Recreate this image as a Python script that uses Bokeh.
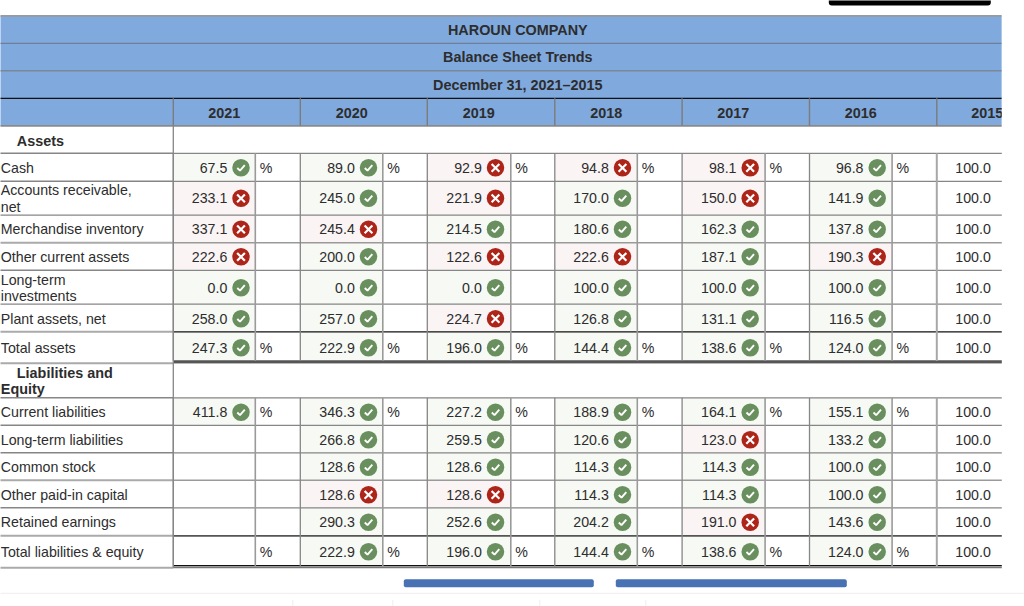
from bokeh.core.properties import value
from bokeh.embed import file_html
from bokeh.models import ColumnDataSource, Range1d
from bokeh.plotting import figure
from bokeh.resources import INLINE

title_lines = ["HAROUN COMPANY", "Balance Sheet Trends", "December 31, 2021\u20132015"]
years = ["2021", "2020", "2019", "2018", "2017", "2016", "2015"]

row_labels = [
    "Cash", "Accounts receivable,\nnet", "Merchandise inventory", "Other current assets",
    "Long-term\ninvestments", "Plant assets, net", "Total assets",
    "Current liabilities", "Long-term liabilities", "Common stock",
    "Other paid-in capital", "Retained earnings", "Total liabilities & equity",
]
section_labels = ["Assets", "Liabilities and\nEquity"]
percent_rows = ["Cash", "Total assets", "Current liabilities", "Total liabilities & equity"]

values_2021 = [67.5, 233.1, 337.1, 222.6, 0.0, 258.0, 247.3, 411.8, None, None, None, None, None]
values_2020 = [89.0, 245.0, 245.4, 200.0, 0.0, 257.0, 222.9, 346.3, 266.8, 128.6, 128.6, 290.3, 222.9]
values_2019 = [92.9, 221.9, 214.5, 122.6, 0.0, 224.7, 196.0, 227.2, 259.5, 128.6, 128.6, 252.6, 196.0]
values_2018 = [94.8, 170.0, 180.6, 222.6, 100.0, 126.8, 144.4, 188.9, 120.6, 114.3, 114.3, 204.2, 144.4]
values_2017 = [98.1, 150.0, 162.3, 187.1, 100.0, 131.1, 138.6, 164.1, 123.0, 114.3, 114.3, 191.0, 138.6]
values_2016 = [96.8, 141.9, 137.8, 190.3, 100.0, 116.5, 124.0, 155.1, 133.2, 100.0, 100.0, 143.6, 124.0]
values_2015 = [100.0, 100.0, 100.0, 100.0, 100.0, 100.0, 100.0, 100.0, 100.0, 100.0, 100.0, 100.0, 100.0]

# y = correct, n = wrong, - = no mark
marks_2021 = "ynnnyyyy-----"
marks_2020 = "yynyyyyyyynyy"
marks_2019 = "nnynynyyyynyy"
marks_2018 = "nyynyyyyyyyyy"
marks_2017 = "nnyyyyyynyyny"
marks_2016 = "yyynyyyyyyyyy"
marks_2015 = "-------------"

all_values = [values_2021, values_2020, values_2019, values_2018, values_2017, values_2016, values_2015]
all_marks = [marks_2021, marks_2020, marks_2019, marks_2018, marks_2017, marks_2016, marks_2015]

# table layout, page pixels
TABLE_R = 1002
col_left = [173.5, 300.5, 427.5, 555, 682.3, 809.7, 937]
col_split = [255.5, 383, 511, 637.5, 765.3, 892.3]
year_x = [224.5, 352, 479, 606.5, 733.5, 861, 987.5]
num_right = [227.5, 355, 482, 609, 736.7, 863.7, 991]
row_y = [168, 198.5, 229.5, 257, 288, 319, 348, 412.5, 440, 467.5, 495, 522.5, 552]
row_top = [153.5, 181.5, 215.3, 243, 270.5, 304.3, 332, 398, 425.5, 453, 480.5, 508, 536]
row_bot = [181.5, 215.3, 243, 270.5, 304.3, 332, 361, 425.5, 453, 480.5, 508, 536, 567]
ICON_DX = 13.7
LINE_H = 16.4
SHIFT = 0.7
FONT = "Liberation Sans"
FS = "14.2px"
FS_HEAD = "14.4px"
INK = "#2d2d2d"
GRID = "#868686"
BAND = "#80a9de"

p = figure(
    width=1024, height=606,
    x_range=Range1d(SHIFT, 1024 + SHIFT), y_range=Range1d(606 + SHIFT, SHIFT),
    x_axis_type=None, y_axis_type=None,
    toolbar_location=None, tools="", output_backend="svg",
    min_border=0, outline_line_color=None,
)
p.grid.visible = False

# header band and cell tints
p.quad(left=0, right=TABLE_R, top=16, bottom=126, fill_color=BAND, line_color=None)

tint = dict(l=[], r=[], t=[], b=[], c=[])
txt = dict(x=[], y=[], s=[])
pct = dict(x=[], y=[])
good = dict(x=[], y=[])
bad = dict(x=[], y=[])
for c, (vals, marks) in enumerate(zip(all_values, all_marks)):
    for r, (v, m) in enumerate(zip(vals, marks)):
        if v is not None:
            txt["x"].append(num_right[c])
            txt["y"].append(row_y[r])
            txt["s"].append(f"{v:.1f}")
        if m == "-":
            continue
        tint["l"].append(col_left[c])
        tint["r"].append(col_split[c])
        tint["t"].append(row_top[r])
        tint["b"].append(row_bot[r])
        tint["c"].append("#f6f9f4" if m == "y" else "#fbf4f4")
        target = good if m == "y" else bad
        target["x"].append(num_right[c] + ICON_DX)
        target["y"].append(row_y[r])
    if c < 6:
        for name in percent_rows:
            pct["x"].append(col_split[c] + 4.5)
            pct["y"].append(row_y[row_labels.index(name)])

p.quad(left="l", right="r", top="t", bottom="b", fill_color="c", line_color=None,
       source=ColumnDataSource(tint))

# rules: label column
light_h = [(0, 173.5, y, 1.4, GRID) for y in (153.5, 181.5, 215.3, 270.5, 304.3, 398, 425.5, 453, 508)]
light_h += [(0, 173.5, y, 2, "#aaaaaa") for y in (243, 332, 363.5, 480.5, 536, 568)]
# rules: body
light_h += [(173.5, TABLE_R, y, 1.2, GRID) for y in (153.5, 181.5, 215.3, 270.5, 304.3, 398, 425.5, 453, 508)]
light_h += [(173.5, TABLE_R, y, 1.6, "#9a9a9a") for y in (243, 480.5)]
light_h += [(173.5, TABLE_R, 332, 1.3, "#111111"), (173.5, TABLE_R, 361.3, 1.8, "#555555"),
            (173.5, TABLE_R, 363, 1.0, "#111111"), (173.5, TABLE_R, 536, 1.8, "#555555"),
            (173.5, TABLE_R, 565.8, 1.2, "#111111"), (173.5, TABLE_R, 567.6, 1.8, "#777777")]
# rules: header
light_h += [(0, TABLE_R, 16, 1.8, "#9a9a9a"), (0, TABLE_R, 43.5, 1.2, "#6f7f96"), (0, TABLE_R, 71, 1.6, "#7a8797"),
            (0, TABLE_R, 98.5, 1.2, "#111111"), (0, TABLE_R, 126, 1.8, "#8a8a8a")]
x0, x1, ys, ws, cs = zip(*light_h)
p.segment(x0=list(x0), x1=list(x1), y0=list(ys), y1=list(ys), line_width=list(ws), line_color=list(cs))

blocks = [(153.5, 361), (398, 567)]
vx, vt, vb, vw, vc = [], [], [], [], []
for top, bot in blocks:
    for x in col_left[:-1]:
        vx.append(x); vt.append(top); vb.append(bot); vw.append(1.3); vc.append(GRID)
    for x in col_split:
        vx.append(x); vt.append(top); vb.append(bot); vw.append(1.6); vc.append("#9a9a9a")
    vx.append(col_left[-1]); vt.append(top); vb.append(bot); vw.append(2); vc.append("#a8a8a8")
for x in col_left:
    vx.append(x); vt.append(98.5); vb.append(126); vw.append(1.4); vc.append("#7c7c7c")
vx.append(col_left[0]); vt.append(126); vb.append(568); vw.append(1.3); vc.append(GRID)
p.segment(x0=vx, x1=vx, y0=vt, y1=vb, line_width=vw, line_color=vc)

# header text
p.text(x=[518] * 3, y=[30, 57.5, 85], text=title_lines, text_align="center", text_baseline="middle",
       text_font=value(FONT), text_font_size=FS_HEAD, text_font_style="bold", text_color=INK)
p.text(x=year_x, y=[113] * 7, text=years, text_align="center", text_baseline="middle",
       text_font=value(FONT), text_font_size=FS_HEAD, text_font_style="bold", text_color=INK)

# row labels, wrapped ones go line by line
lab = dict(x=[], y=[], s=[])
for label, y in zip(row_labels, row_y):
    parts = label.split("\n")
    for i, part in enumerate(parts):
        lab["x"].append(1)
        lab["y"].append(y + (i - (len(parts) - 1) / 2) * LINE_H)
        lab["s"].append(part)
p.text(x="x", y="y", text="s", source=ColumnDataSource(lab), text_baseline="middle",
       text_font=value(FONT), text_font_size=FS, text_color=INK)

sec = dict(x=[17, 17, 1], y=[141, 373, 389.5],
           s=[section_labels[0]] + section_labels[1].split("\n"))
p.text(x="x", y="y", text="s", source=ColumnDataSource(sec), text_baseline="middle",
       text_font=value(FONT), text_font_size=FS_HEAD, text_font_style="bold", text_color=INK)

# values and percent signs
p.text(x="x", y="y", text="s", source=ColumnDataSource(txt), text_align="right", text_baseline="middle",
       text_font=value(FONT), text_font_size=FS, text_color=INK)
p.text(x="x", y="y", text=value("%"), source=ColumnDataSource(pct), text_baseline="middle",
       text_font=value(FONT), text_font_size=FS, text_color=INK)

# answer marks
p.scatter(x="x", y="y", source=ColumnDataSource(good), marker="circle", size=17.5,
          fill_color="#6a8f5e", line_color=None)
p.scatter(x="x", y="y", source=ColumnDataSource(bad), marker="circle", size=17.5,
          fill_color="#ad2419", line_color=None)
p.scatter(x="x", y="y", source=ColumnDataSource(bad), marker="x", size=11,
          line_color="white", line_width=2.2)
p.multi_line(
    xs=[[x - 3.7, x - 1, x + 3.8] for x in good["x"]],
    ys=[[y + 0.2, y + 2.8, y - 2.6] for y in good["y"]],
    line_color="white", line_width=1.9,
)

# page furniture around the table
p.quad(left=1002, right=1030, top=14, bottom=128, fill_color="white", line_color=None)
p.quad(left=829, right=991, top=-5, bottom=5.8, fill_color="#000000", line_color=None, border_radius=3)
p.quad(left=[404, 616], right=[594, 847], top=[579.5, 579.5], bottom=[587.5, 587.5],
       fill_color="#4872b4", line_color=None, border_radius=2)
p.segment(x0=[0], x1=[1024], y0=[593.5], y1=[593.5], line_color="#eeeeee", line_width=1)
p.segment(x0=[293, 393, 540, 646], x1=[293, 393, 540, 646], y0=[600] * 4, y1=[606] * 4,
          line_color="#eeeeee", line_width=1)

open("out.html", "w").write(file_html(p, INLINE))
